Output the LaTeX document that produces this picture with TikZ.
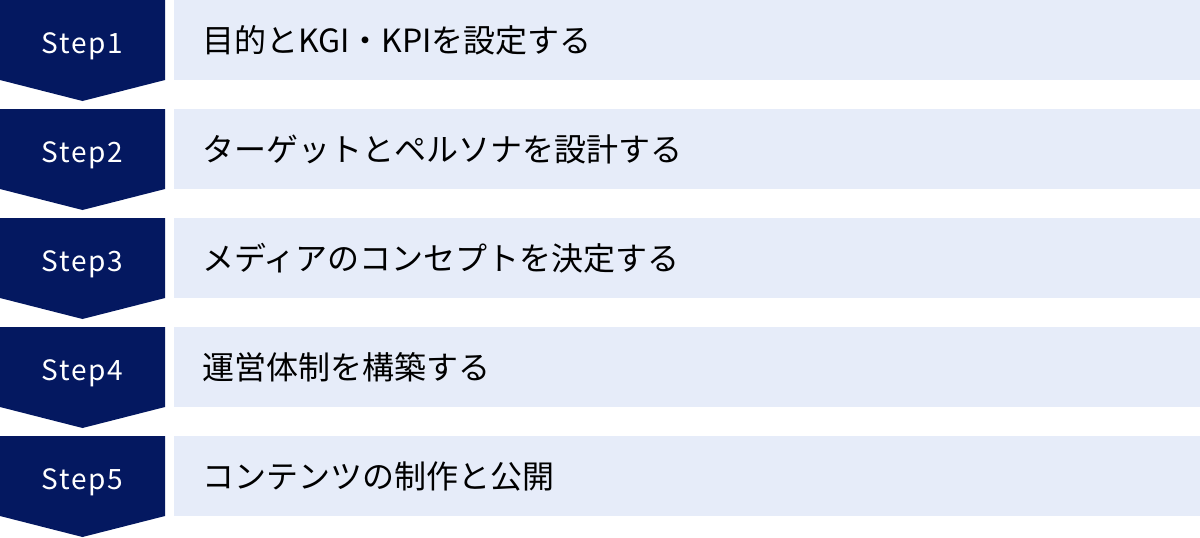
\documentclass[tikz,border=0pt]{standalone}
\usepackage{fontspec}
\setmainfont{Noto Sans CJK JP}
\newfontfamily\stepfont[LetterSpace=6]{Noto Sans CJK JP}
\definecolor{navy}{HTML}{041860}
\definecolor{lightbox}{HTML}{E6ECF9}
\begin{document}
\begin{tikzpicture}[x=1pt,y=-1pt,
  stepshape/.style={fill=navy,draw=none},
  bandbox/.style={fill=lightbox,draw=none},
  steplabel/.style={text=white,font=\stepfont\fontsize{28}{32}\selectfont,anchor=base,inner sep=0pt},
  bandlabel/.style={text=black,font=\fontsize{32}{36}\selectfont,anchor=west,inner sep=0pt}]
\useasboundingbox (0,0) rectangle (1200,538);
\foreach \i/\txt [count=\n from 0] in {1/目的とKGI・KPIを設定する,2/ターゲットとペルソナを設計する,3/メディアのコンセプトを決定する,4/運営体制を構築する,5/コンテンツの制作と公開}{
  \pgfmathsetmacro{\t}{109*\n}
  \fill[stepshape] (0,\t) -- (165,\t) -- (165,\t+80) -- (82.5,\t+101) -- (0,\t+80) -- cycle;
  \fill[bandbox] (174,\t) rectangle (1200,\t+80);
  \node[steplabel] (s\i) at (82.5,\t+53) {Step\i};
  \node[bandlabel] (b\i) at (202,\t+40) {\txt};
}
\end{tikzpicture}
\end{document}
